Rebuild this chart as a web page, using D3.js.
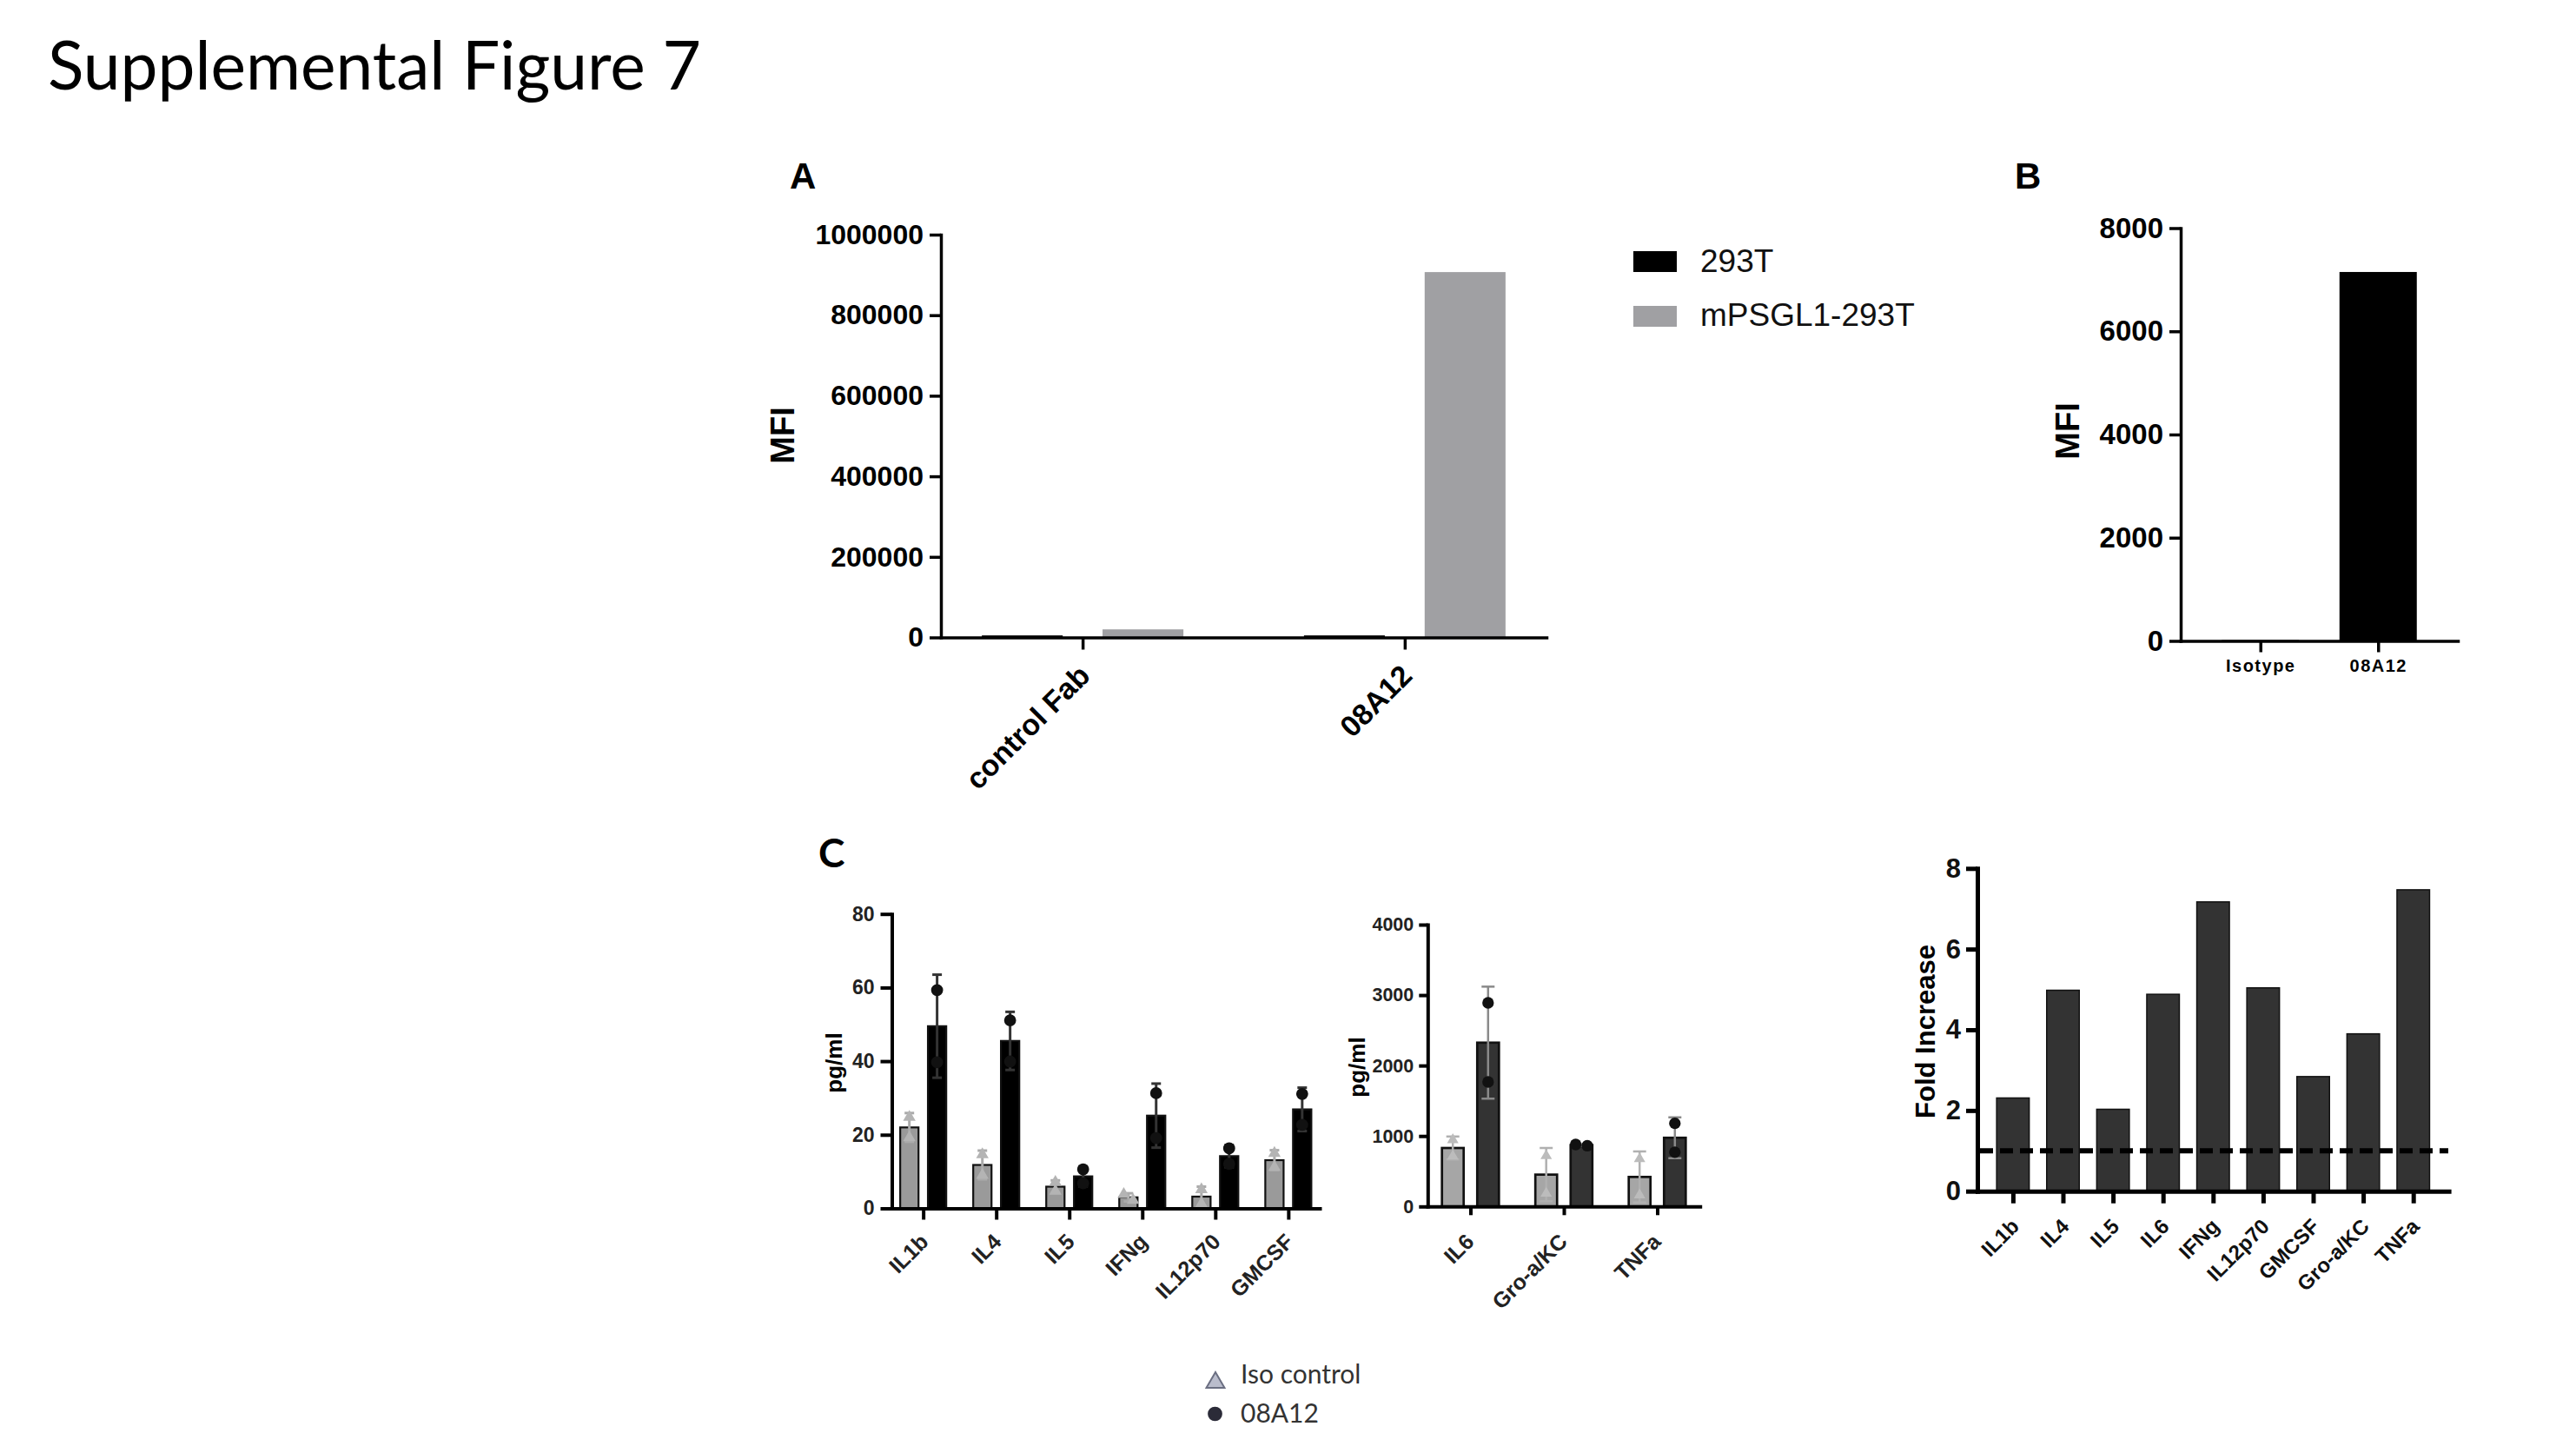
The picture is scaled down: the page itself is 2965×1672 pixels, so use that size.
<!DOCTYPE html>
<html><head><meta charset="utf-8">
<script src="https://cdn.jsdelivr.net/npm/d3@7"></script>
<style>body{margin:0;background:#fff} svg{display:block}</style>
</head><body>
<svg id="fig" width="2965" height="1672"></svg>
<script>
// ---------------- DATA ----------------
const titleText = "Supplemental Figure 7";

// Panel A
const aAntibodies = ["control Fab", "08A12"];
const aCells = ["293T", "mPSGL1-293T"];
const aMfi293T = [5000, 5000];
const aMfiPSGL1 = [20000, 907000];
const aYTicks = [0, 200000, 400000, 600000, 800000, 1000000];

// Panel B
const bAntibodies = ["Isotype", "08A12"];
const bMfi = [15, 7150];
const bYTicks = [0, 2000, 4000, 6000, 8000];

// Panel C left (pg/ml)
const cLeftCytokines = ["IL1b", "IL4", "IL5", "IFNg", "IL12p70", "GMCSF"];
const cLeftIsoMean = [22.0, 11.8, 5.9, 3.0, 3.2, 13.1];
const cLeftIsoSD = [3.9, 3.9, 1.7, 1.1, 2.7, 2.7];
const cLeftIsoPts = [[24.8, 19.2], [14.6, 9.0], [7.1, 4.7], [3.8, 2.2], [5.1, 1.3], [15.0, 11.2]];
const cLeftAbMean = [49.5, 45.5, 8.7, 25.2, 14.2, 26.9];
const cLeftAbSD = [14.0, 7.9, 2.7, 8.7, 3.0, 5.9];
const cLeftAbPts = [[59.3, 39.7], [51.1, 39.9], [10.6, 6.8], [31.3, 19.1], [16.3, 12.1], [31.1, 22.7]];
const cLeftYTicks = [0, 20, 40, 60, 80];

// Panel C middle (pg/ml)
const cMidCytokines = ["IL6", "Gro-a/KC", "TNFa"];
const cMidIsoMean = [830, 452, 419];
const cMidIsoSD = [163, 378, 362];
const cMidIsoPts = [[945, 715], [719, 185], [675, 163]];
const cMidAbMean = [2325, 871, 975];
const cMidAbSD = [795, 13, 290];
const cMidAbPts = [[2890, 1768], [880, 862], [1180, 770]];
const cMidYTicks = [0, 1000, 2000, 3000, 4000];

// Panel C right (fold increase)
const foldCytokines = ["IL1b", "IL4", "IL5", "IL6", "IFNg", "IL12p70", "GMCSF", "Gro-a/KC", "TNFa"];
const foldValues = [2.31, 4.98, 2.03, 4.88, 7.17, 5.04, 2.84, 3.90, 7.47];
const foldBaseline = 1;
const foldYTicks = [0, 2, 4, 6, 8];

// legend
const groupNames = ["Iso control", "08A12"];

// ---------------- DRAW ----------------
const ARIAL = "'Liberation Sans', Arial, sans-serif";
const LATO = "Lato, 'Open Sans', sans-serif";
const svg = d3.select("#fig");

// title
const title = svg.append("text").attr("x", 55).attr("y", 103)
  .attr("font-family", LATO).attr("font-size", 80).attr("fill", "#000").text(titleText);
const tl = title.node().getComputedTextLength();
title.attr("font-size", 80 * 752 / tl);

function panelLetter(t, x, y, fam, size) {
  svg.append("text").attr("x", x).attr("y", y).attr("font-family", fam)
    .attr("font-weight", "bold").attr("font-size", size).text(t);
}

function styleAxis(g, sw, fs, col) {
  g.select(".domain").attr("stroke", "#000").attr("stroke-width", sw).attr("stroke-linecap", "square");
  g.selectAll(".tick line").attr("stroke", "#000").attr("stroke-width", sw);
  g.selectAll(".tick text").attr("font-family", ARIAL).attr("font-weight", "bold")
    .attr("font-size", fs).attr("fill", col || "#000");
}

function yLabel(t, cx, cy, fs) {
  svg.append("text").attr("transform", `translate(${cx},${cy}) rotate(-90)`)
    .attr("text-anchor", "middle").attr("dominant-baseline", "central")
    .attr("font-family", ARIAL).attr("font-weight", "bold").attr("font-size", fs).text(t);
}

function rotateLabels(g, dx, dy) {
  g.selectAll(".tick text").attr("x", null).attr("y", null).attr("dy", null)
    .attr("transform", `translate(${dx},${dy}) rotate(-45)`).attr("text-anchor", "end");
}

// ---------- Panel A ----------
panelLetter("A", 909, 217, ARIAL, 42);
{
  const y = d3.scaleLinear().domain([0, 1000000]).range([733.5, 270]);
  const x = d3.scalePoint().domain(aAntibodies).range([1083, 1780]).padding(0.44);
  const x1 = d3.scaleBand().domain(aCells).range([-116, 116]).paddingInner(0.33);
  const series = [aMfi293T, aMfiPSGL1];
  const colors = ["#000000", "#a0a0a3"];
  aCells.forEach((c, si) => {
    svg.append("g").selectAll("rect").data(aAntibodies).join("rect")
      .attr("x", d => x(d) + x1(c)).attr("width", x1.bandwidth())
      .attr("y", (d, i) => y(series[si][i])).attr("height", (d, i) => y(0) - y(series[si][i]))
      .attr("fill", colors[si]);
  });
  const gy = svg.append("g").attr("transform", "translate(1083,0)")
    .call(d3.axisLeft(y).tickValues(aYTicks).tickFormat(d3.format("d")).tickSize(13).tickSizeOuter(0).tickPadding(7));
  styleAxis(gy, 3.5, 32);
  const gx = svg.append("g").attr("transform", "translate(0,733.5)")
    .call(d3.axisBottom(x).tickSize(14).tickSizeOuter(0));
  styleAxis(gx, 3.5, 34);
  rotateLabels(gx, 10, 46);
  yLabel("MFI", 901, 501, 38);
  // legend
  const lg = svg.append("g");
  lg.selectAll("rect").data(aCells).join("rect")
    .attr("x", 1880).attr("width", 50).attr("y", (d, i) => 289 + i * 63).attr("height", 24)
    .attr("fill", (d, i) => colors[i]);
  lg.selectAll("text").data(aCells).join("text")
    .attr("x", 1957).attr("y", (d, i) => 313 + i * 62)
    .attr("font-family", ARIAL).attr("font-size", 37).attr("fill", "#111").text(d => d);
}

// ---------- Panel B ----------
panelLetter("B", 2319, 217, ARIAL, 42);
{
  const y = d3.scaleLinear().domain([0, 8000]).range([737.5, 262.5]);
  const x = d3.scalePoint().domain(bAntibodies).range([2510, 2829]).padding(0.677);
  const bw = 89;
  svg.append("g").selectAll("rect").data(bAntibodies).join("rect")
    .attr("x", d => x(d) - bw / 2).attr("width", bw)
    .attr("y", (d, i) => y(bMfi[i])).attr("height", (d, i) => y(0) - y(bMfi[i]))
    .attr("fill", "#000");
  const gy = svg.append("g").attr("transform", "translate(2510,0)")
    .call(d3.axisLeft(y).tickValues(bYTicks).tickFormat(d3.format("d")).tickSize(13).tickSizeOuter(0).tickPadding(7));
  styleAxis(gy, 3.5, 33);
  const gx = svg.append("g").attr("transform", "translate(0,737.5)")
    .call(d3.axisBottom(x).tickSize(13).tickSizeOuter(0).tickPadding(8));
  styleAxis(gx, 3.5, 20);
  gx.selectAll(".tick text").attr("letter-spacing", 1.5);
  yLabel("MFI", 2380, 496, 38);
}

// ---------- Panel C ----------
svg.append("text").attr("x", 942).attr("y", 998).attr("font-family", LATO)
  .attr("font-weight", "bold").attr("font-size", 46).text("C");

function groupedPanel(opt) {
  const y = d3.scaleLinear().domain(opt.yDomain).range([opt.y0, opt.yTop]);
  const x = d3.scalePoint().domain(opt.cats).range([opt.x0, opt.x1]).padding(opt.pad);
  const xi = d3.scaleBand().domain(groupNames).range([-opt.half, opt.half]).paddingInner(opt.pin);
  const groups = [
    {name: groupNames[0], mean: opt.isoMean, sd: opt.isoSD, pts: opt.isoPts, fill: opt.isoFill, err: opt.isoErr, sym: d3.symbolTriangle, symSize: opt.triSize, symFill: opt.triFill},
    {name: groupNames[1], mean: opt.abMean, sd: opt.abSD, pts: opt.abPts, fill: opt.abFill, err: opt.abErr, sym: d3.symbolCircle, symSize: opt.dotSize, symFill: opt.dotFill}
  ];
  const bw = xi.bandwidth();
  groups.forEach(gr => {
    const cx = (d) => x(d) + xi(gr.name) + bw / 2;
    svg.append("g").selectAll("rect").data(opt.cats).join("rect")
      .attr("x", d => x(d) + xi(gr.name)).attr("width", bw)
      .attr("y", (d, i) => y(gr.mean[i])).attr("height", (d, i) => y(0) - y(gr.mean[i]))
      .attr("fill", gr.fill).attr("stroke", "#111").attr("stroke-width", opt.barStroke);
    const eg = svg.append("g").attr("stroke", gr.err).attr("stroke-width", opt.errW).attr("fill", "none");
    opt.cats.forEach((d, i) => {
      const lo = Math.max(0, gr.mean[i] - gr.sd[i]), hi = gr.mean[i] + gr.sd[i];
      eg.append("line").attr("x1", cx(d)).attr("x2", cx(d)).attr("y1", y(lo)).attr("y2", y(hi));
      eg.append("line").attr("x1", cx(d) - opt.cap).attr("x2", cx(d) + opt.cap).attr("y1", y(hi)).attr("y2", y(hi));
      if (gr.mean[i] - gr.sd[i] > 0)
        eg.append("line").attr("x1", cx(d) - opt.cap).attr("x2", cx(d) + opt.cap).attr("y1", y(lo)).attr("y2", y(lo));
    });
    const r = Math.sqrt(gr.symSize / Math.PI);
    const pg = svg.append("g");
    opt.cats.forEach((d, i) => {
      const p = gr.pts[i];
      const close = Math.abs(y(p[0]) - y(p[1])) < r * 1.5;
      p.forEach((v, k) => {
        const off = close ? (k === 0 ? -r : r) : 0;
        pg.append("path").attr("d", d3.symbol().type(gr.sym).size(gr.symSize)())
          .attr("transform", `translate(${cx(d) + off},${y(v)})`).attr("fill", gr.symFill);
      });
    });
  });
  const gy = svg.append("g").attr("transform", `translate(${opt.x0},0)`)
    .call(d3.axisLeft(y).tickValues(opt.yTicks).tickFormat(d3.format("d")).tickSize(opt.tick).tickSizeOuter(0).tickPadding(opt.tpad));
  styleAxis(gy, opt.axisW, opt.yfs, "#222");
  const gx = svg.append("g").attr("transform", `translate(0,${opt.y0})`)
    .call(d3.axisBottom(x).tickSize(opt.tick).tickSizeOuter(0));
  styleAxis(gx, opt.axisW, opt.xfs, "#222");
  rotateLabels(gx, opt.ldx, opt.ldy);
  yLabel("pg/ml", opt.ylx, opt.yly, 26);
}

groupedPanel({
  cats: cLeftCytokines, yDomain: [0, 80], y0: 1390.5, yTop: 1051.7, x0: 1026.5, x1: 1519, pad: 0.43,
  half: 26.5, pin: 0.34,
  isoMean: cLeftIsoMean, isoSD: cLeftIsoSD, isoPts: cLeftIsoPts,
  abMean: cLeftAbMean, abSD: cLeftAbSD, abPts: cLeftAbPts,
  isoFill: "#9a9a9a", abFill: "#000", isoErr: "#aaaaaa", abErr: "#333",
  triFill: "#b4b4b4", dotFill: "#111", triSize: 90, dotSize: 150,
  barStroke: 2.2, errW: 3, cap: 5.5, tick: 13, tpad: 7, axisW: 4, yfs: 23, xfs: 25,
  ldx: 7, ldy: 40, ylx: 960, yly: 1223, yTicks: cLeftYTicks
});

groupedPanel({
  cats: cMidCytokines, yDomain: [0, 4000], y0: 1388.3, yTop: 1064, x0: 1643.3, x1: 1956.7, pad: 0.4577,
  half: 32.8, pin: 0.384,
  isoMean: cMidIsoMean, isoSD: cMidIsoSD, isoPts: cMidIsoPts,
  abMean: cMidAbMean, abSD: cMidAbSD, abPts: cMidAbPts,
  isoFill: "#a6a6a6", abFill: "#333333", isoErr: "#b0b0b0", abErr: "#8a8a8a",
  triFill: "#bcbcbc", dotFill: "#111", triSize: 75, dotSize: 140,
  barStroke: 2.7, errW: 2.5, cap: 7.5, tick: 10, tpad: 6, axisW: 4, yfs: 21.5, xfs: 25,
  ldx: 5, ldy: 42, ylx: 1562, yly: 1228, yTicks: cMidYTicks
});

// ---------- Panel C right ----------
{
  const y = d3.scaleLinear().domain([0, 8]).range([1370.7, 999.3]);
  const x = d3.scalePoint().domain(foldCytokines).range([2276, 2818.6]).padding(0.71);
  const bw = 37.5;
  svg.append("g").selectAll("rect").data(foldCytokines).join("rect")
    .attr("x", d => x(d) - bw / 2).attr("width", bw)
    .attr("y", (d, i) => y(foldValues[i])).attr("height", (d, i) => y(0) - y(foldValues[i]))
    .attr("fill", "#333333").attr("stroke", "#111").attr("stroke-width", 1.5);
  svg.append("path").datum([2279, 2818])
    .attr("d", d3.line().x(d => d).y(() => y(foldBaseline)))
    .attr("stroke", "#000").attr("stroke-width", 6).attr("stroke-dasharray", "15,8").attr("fill", "none");
  const gy = svg.append("g").attr("transform", "translate(2276,0)")
    .call(d3.axisLeft(y).tickValues(foldYTicks).tickFormat(d3.format("d")).tickSize(13).tickSizeOuter(0).tickPadding(6));
  styleAxis(gy, 5, 31, "#111");
  const gx = svg.append("g").attr("transform", "translate(0,1370.7)")
    .call(d3.axisBottom(x).tickSize(14).tickSizeOuter(0));
  styleAxis(gx, 5, 24, "#111");
  rotateLabels(gx, 8, 42);
  yLabel("Fold Increase", 2216, 1187, 31);
}

// ---------- bottom legend ----------
{
  const lg = svg.append("g");
  lg.append("path").attr("d", d3.symbol().type(d3.symbolTriangle).size(190)())
    .attr("transform", "translate(1399,1591)").attr("fill", "#babdcc").attr("stroke", "#6b6f82").attr("stroke-width", 2);
  lg.append("path").attr("d", d3.symbol().type(d3.symbolCircle).size(220)())
    .attr("transform", "translate(1398.5,1627)").attr("fill", "#2b2b38");
  lg.selectAll("text").data(groupNames).join("text")
    .attr("x", 1428).attr("y", (d, i) => 1592 + i * 45)
    .attr("font-family", LATO).attr("font-size", 30).attr("fill", "#333").text(d => d);
}
</script>
</body></html>
